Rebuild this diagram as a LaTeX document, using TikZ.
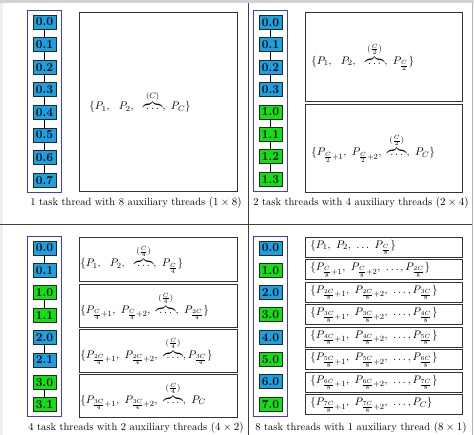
\documentclass[11pt,tikz,border=0pt]{standalone}
\usepackage{amsmath, amssymb}
\usetikzlibrary{positioning, fit}
\definecolor{thrblue}{HTML}{1BA1E2}
\definecolor{thrgreen}{HTML}{12E012}
\definecolor{frameblue}{HTML}{3A3AE6}

\begin{document}
\begin{tikzpicture}[x=1pt, y=-1pt,
    thr/.style={draw=black!85, line width=0.8pt, minimum width=23pt, minimum height=14pt, inner sep=0pt, font=\fontsize{12}{12}\selectfont\bfseries},
    tb/.style={thr, fill=thrblue},
    tg/.style={thr, fill=thrgreen},
    thrframe/.style={draw=frameblue, line width=0.8pt, inner xsep=5pt, inner ysep=4.5pt},
    procbox/.style={draw=black!80, line width=0.8pt, anchor=north west, align=left, inner ysep=0pt},
    caption/.style={font=\fontsize{10.5}{12}\selectfont, inner sep=1pt}]
  \useasboundingbox (0,0) rectangle (474,435);
  % table rules
  \fill[gray!12] (0,0) rectangle (3,435);
  \fill[gray!35] (0,0) rectangle (474,3.5);
  \draw[black!75, line width=1pt] (0,225) -- (472,225);
  \draw[black!75, line width=1pt] (248,3.5) -- (248,435);
  \draw[gray!60, line width=1pt] (472,3.5) -- (472,435);

  % 1 x 8
  \foreach \i in {0,...,7}
    \node[tb] (a\i) at (44.5, {22+22.6*\i}) {0.\i};
  \foreach \i [remember=\i as \last (initially 0)] in {1,...,7}
    \draw[line width=0.6pt] (a\last.south) -- (a\i.north);
  \node[thrframe, fit=(a0)(a7)] (fa) {};
  \node[procbox, text width=138pt, inner xsep=10pt, minimum height=179pt] (pa) at (79,12)
    {$\{P_1,\ \ P_2,\ \ \overbrace{\;\ldots\;}^{(C)},\ P_C\}$};
  \node[caption] (ca) at (136,203) {1 task thread with 8 auxiliary threads $(1\times 8)$};

  % 2 x 4
  \foreach \i/\lab/\sty in {0/0.0/tb, 1/0.1/tb, 2/0.2/tb, 3/0.3/tb, 4/1.0/tg, 5/1.1/tg, 6/1.2/tg, 7/1.3/tg}
    \node[\sty] (b\i) at (270.5, {22.5+22.4*\i}) {\lab};
  \foreach \i/\j in {0/1, 1/2, 2/3, 4/5, 5/6, 6/7}
    \draw[line width=0.6pt] (b\i.south) -- (b\j.north);
  \node[thrframe, fit=(b0)(b7)] (fb) {};
  \node[procbox, text width=145pt, inner xsep=6pt, minimum height=89pt] (pb0) at (305,12)
    {$\{P_1,\ \ P_2,\ \ \overbrace{\;\ldots\;}^{(\frac{C}{2})},\ P_{\frac{C}{2}}\}$};
  \node[procbox, text width=145pt, inner xsep=6pt, minimum height=88pt] (pb1) at (305,104)
    {$\{P_{\frac{C}{2}+1},\ P_{\frac{C}{2}+2},\ \overbrace{\;\ldots\;}^{(\frac{C}{2})},\ P_C\}$};
  \node[caption] (cb) at (361,203) {2 task threads with 4 auxiliary threads $(2\times 4)$};

  % 4 x 2
  \foreach \i/\lab/\sty in {0/0.0/tb, 1/0.1/tb, 2/1.0/tg, 3/1.1/tg, 4/2.0/tb, 5/2.1/tb, 6/3.0/tg, 7/3.1/tg}
    \node[\sty] (c\i) at (44.5, {248+22.4*\i}) {\lab};
  \foreach \i/\j in {0/1, 2/3, 4/5, 6/7}
    \draw[line width=0.6pt] (c\i.south) -- (c\j.north);
  \node[thrframe, fit=(c0)(c7)] (fc) {};
  \node[procbox, text width=156pt, inner xsep=1pt, minimum height=44pt] (pc0) at (79,237)
    {$\{P_1,\ \ P_2,\ \ \overbrace{\;\ldots\;}^{(\frac{C}{4})},\ P_{\frac{C}{4}}\}$};
  \node[procbox, text width=156pt, inner xsep=1pt, minimum height=43pt] (pc1) at (79,284)
    {$\{P_{\frac{C}{4}+1},\ P_{\frac{C}{4}+2},\ \overbrace{\;\ldots\;}^{(\frac{C}{4})},\ P_{\frac{2C}{4}}\}$};
  \node[procbox, text width=156pt, inner xsep=1pt, minimum height=43pt] (pc2) at (79,329)
    {$\{P_{\frac{2C}{4}+1},\ P_{\frac{2C}{4}+2},\ \overbrace{\;\ldots\;}^{(\frac{C}{4})}, P_{\frac{3C}{4}}\}$};
  \node[procbox, text width=156pt, inner xsep=1pt, minimum height=43pt] (pc3) at (79,374)
    {$\{P_{\frac{3C}{4}+1},\ P_{\frac{3C}{4}+2},\ \overbrace{\;\ldots\;}^{(\frac{C}{4})},\ P_C$};
  \node[caption] (cc) at (136,428) {4 task threads with 2 auxiliary threads $(4\times 2)$};

  % 8 x 1
  \foreach \i/\sty in {0/tb, 1/tg, 2/tb, 3/tg, 4/tb, 5/tg, 6/tb, 7/tg}
    \node[\sty] (d\i) at (270.5, {248+22.3*\i}) {\i.0};
  \node[thrframe, fit=(d0)(d7)] (fd) {};
  \node[procbox, text width=147pt, inner xsep=5pt, minimum height=20pt] (pd0) at (305,237)
    {$\{P_1,\ P_2,\ \ldots\ P_{\frac{C}{8}}\}$};
  \foreach \i/\lo/\hi in {1/C/2C, 2/2C/3C, 3/3C/4C, 4/4C/5C, 5/5C/6C, 6/6C/7C}
    \node[procbox, text width=147pt, inner xsep=5pt, minimum height=20pt] (pd\i) at (305, {237+22.5*\i})
      {$\{P_{\frac{\lo}{8}+1},\ P_{\frac{\lo}{8}+2},\ \ldots, P_{\frac{\hi}{8}}\}$};
  \node[procbox, text width=147pt, inner xsep=5pt, minimum height=20pt] (pd7) at (305,{237+22.5*7})
    {$\{P_{\frac{7C}{8}+1},\ P_{\frac{7C}{8}+2},\ \ldots, P_C\}$};
  \node[caption] (cd) at (361,428) {8 task threads with 1 auxiliary thread $(8\times 1)$};
\end{tikzpicture}
\end{document}
